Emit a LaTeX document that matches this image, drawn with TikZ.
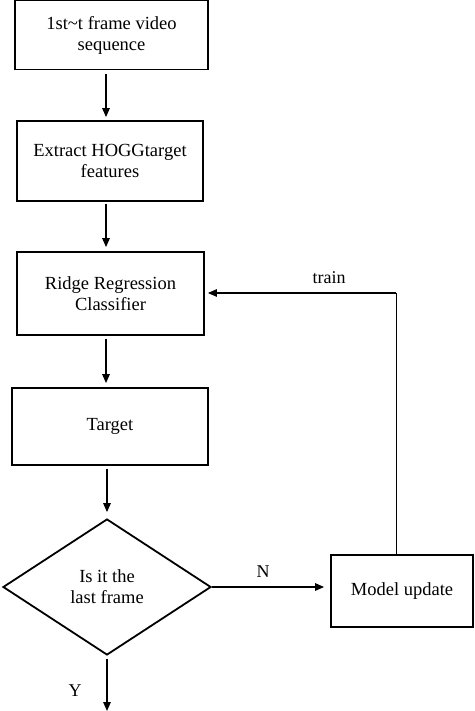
\documentclass[tikz,border=0pt]{standalone}
\usepackage{fontspec}
\setmainfont{Liberation Serif}
\usetikzlibrary{arrows.meta,shapes.geometric}
\begin{document}
\begin{tikzpicture}[x=1pt,y=-1pt,
  box/.style={draw,line width=1.8pt,inner sep=0pt,align=center,font=\fontsize{18.5}{21}\selectfont},
  arr/.style={line width=1.4pt,-{Triangle[length=9pt,width=7.5pt]}},
  lbl/.style={font=\fontsize{18}{20}\selectfont}]
\useasboundingbox (0,0) rectangle (474,711);
\node[box,minimum width=193pt,minimum height=69pt] (b1) at (111.5,35) {1st\char`\~t frame video\\sequence};
\node[box,minimum width=186pt,minimum height=80pt] (b2) at (110,161) {Extract HOGGtarget\\features};
\node[box,minimum width=187pt,minimum height=83pt] (b3) at (110.5,293.5) {Ridge Regression\\Classifier};
\node[box,minimum width=196pt,minimum height=77pt] (b4) at (110,426.5) {Target};
\node[box,diamond,minimum width=208pt,minimum height=136pt,aspect=1.53] (d) at (107,587) {Is it the\\last frame};
\node[box,minimum width=142pt,minimum height=72pt] (mu) at (402,591) {Model update};
\coordinate (c1) at (396,293);
\coordinate (yend) at (107,711);
\coordinate (ax) at (106,0);
\draw[arr] ([yshift=-4pt]b1.south -| ax) -- ([yshift=3pt]b2.north -| ax);
\draw[arr] ([yshift=-2pt]b2.south -| ax) -- ([yshift=4pt]b3.north -| ax);
\draw[arr] ([yshift=-3pt]b3.south -| ax) -- ([yshift=4pt]b4.north -| ax);
\draw[arr] ([yshift=-3pt]b4.south -| d.north) -- ([yshift=6pt]d.north);
\draw[arr] (d.east) -- ([xshift=-6pt]mu.west |- d.east);
\draw[line width=0.6pt] (mu.north -| c1) -- (c1);
\draw[arr,line width=1.1pt] (c1) -- ([xshift=3pt]b3.east |- c1);
\draw[arr] ([yshift=-3pt]d.south) -- (yend);
\node[lbl] (tr) at (329,278) {train};
\node[lbl] (n) at (263,572) {N};
\node[lbl] (y) at (75,691) {Y};
\end{tikzpicture}
\end{document}
